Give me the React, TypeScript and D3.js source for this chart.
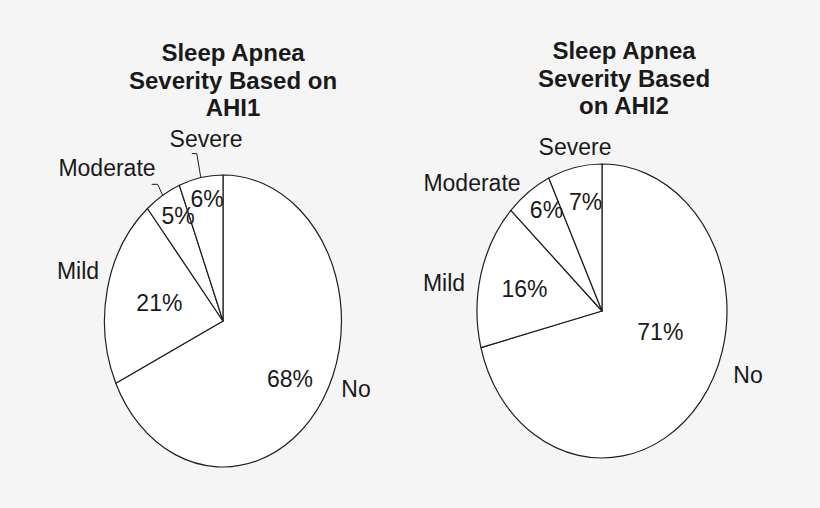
import React from "react";
import { arc, pie, PieArcDatum } from "d3";

// severity classes, in the order the slices run clockwise from 12 o'clock
const categories = ["No", "Mild", "Moderate", "Severe"];
const ahi1Values = [68, 21, 5, 6];
const ahi2Values = [71, 16, 6, 7];
const ahi1Title = ["Sleep Apnea", "Severity Based on", "AHI1"];
const ahi2Title = ["Sleep Apnea", "Severity Based", "on AHI2"];

const WIDTH = 820;
const HEIGHT = 508;
const FONT = "Arial, 'Liberation Sans', Helvetica, sans-serif";
const R = 100; // arcs are built on a circle of this radius, then stretched to an ellipse

type Layout = {
  cx: number;
  cy: number;
  rx: number;
  ry: number;
  titleX: number;
  titleY: number;
  pctK: number[];
  pctNudge: [number, number][];
  nameOffset: [number, number][];
  leaders: ([number, number][] | null)[];
};

const leftLayout: Layout = {
  cx: 223,
  cy: 321,
  rx: 118.5,
  ry: 146,
  titleX: 233,
  titleY: 61,
  pctK: [0.69, 0.55, 0.81, 0.85],
  pctNudge: [[-2, 4], [0, -1], [4, -3], [3, 0]],
  nameOffset: [[133, 68], [-145, -50], [-116, -153], [-17, -182]],
  leaders: [null, null, [[-5, -11], [-11, -11]], [[-4, -24], [-9, -24]]]
};

const rightLayout: Layout = {
  cx: 602,
  cy: 311,
  rx: 125,
  ry: 147,
  titleX: 624,
  titleY: 59,
  pctK: [0.55, 0.64, 0.81, 0.75],
  pctNudge: [[4, -29], [0, 1], [4, -5], [4, -1]],
  nameOffset: [[146, 64], [-158, -28], [-130, -128], [-27, -164]],
  leaders: [null, null, null, null]
};

const PieChart: React.FC<{ values: number[]; title: string[]; layout: Layout }> = ({
  values,
  title,
  layout
}) => {
  const { cx, cy, rx, ry } = layout;
  const slices = pie<number>().sort(null).value(d => d)(values);
  const arcGen = arc<PieArcDatum<number>>().innerRadius(0).outerRadius(R);

  const mid = (s: PieArcDatum<number>) => (s.startAngle + s.endAngle) / 2;
  const onEllipse = (a: number, k: number): [number, number] => [
    cx + k * rx * Math.sin(a),
    cy - k * ry * Math.cos(a)
  ];

  return (
    <g fontFamily={FONT} fill="#1a1a1a">
      <text textAnchor="middle" fontWeight="bold" fontSize={24}>
        {title.map((t, i) => (
          <tspan key={i} x={layout.titleX} y={layout.titleY + i * 27.5}>
            {t}
          </tspan>
        ))}
      </text>

      <g transform={`translate(${cx},${cy}) scale(${rx / R},${ry / R})`}>
        {slices.map((s, i) => (
          <path
            key={i}
            d={arcGen(s)!}
            fill="#ffffff"
            stroke="#1f1f1f"
            strokeWidth={1.2}
            strokeLinejoin="round"
            vectorEffect="non-scaling-stroke"
          />
        ))}
      </g>

      {slices.map((s, i) => {
        const [x, y] = onEllipse(mid(s), layout.pctK[i]);
        const [nx, ny] = layout.pctNudge[i];
        return (
          <text
            key={"p" + i}
            x={x + nx}
            y={y + ny}
            dy="0.35em"
            textAnchor="middle"
            fontSize={23}
          >
            {`${s.data}%`}
          </text>
        );
      })}

      {slices.map((s, i) => {
        const [ox, oy] = layout.nameOffset[i];
        return (
          <text
            key={"n" + i}
            x={cx + ox}
            y={cy + oy}
            dy="0.35em"
            textAnchor="middle"
            fontSize={23}
          >
            {categories[i]}
          </text>
        );
      })}

      {slices.map((s, i) => {
        const leader = layout.leaders[i];
        if (!leader) return null;
        const [ex, ey] = onEllipse(mid(s), 1);
        const pts = [[ex, ey], ...leader.map(([dx, dy]) => [ex + dx, ey + dy])];
        return (
          <polyline
            key={"l" + i}
            points={pts.map(p => p.join(",")).join(" ")}
            fill="none"
            stroke="#1f1f1f"
            strokeWidth={1}
          />
        );
      })}
    </g>
  );
};

export default function App() {
  return (
    <svg
      width={WIDTH}
      height={HEIGHT}
      style={{ position: "absolute", left: 0, top: 0, display: "block" }}
    >
      <rect width={WIDTH} height={HEIGHT} fill="#f5f5f5" />
      <PieChart values={ahi1Values} title={ahi1Title} layout={leftLayout} />
      <PieChart values={ahi2Values} title={ahi2Title} layout={rightLayout} />
    </svg>
  );
}
